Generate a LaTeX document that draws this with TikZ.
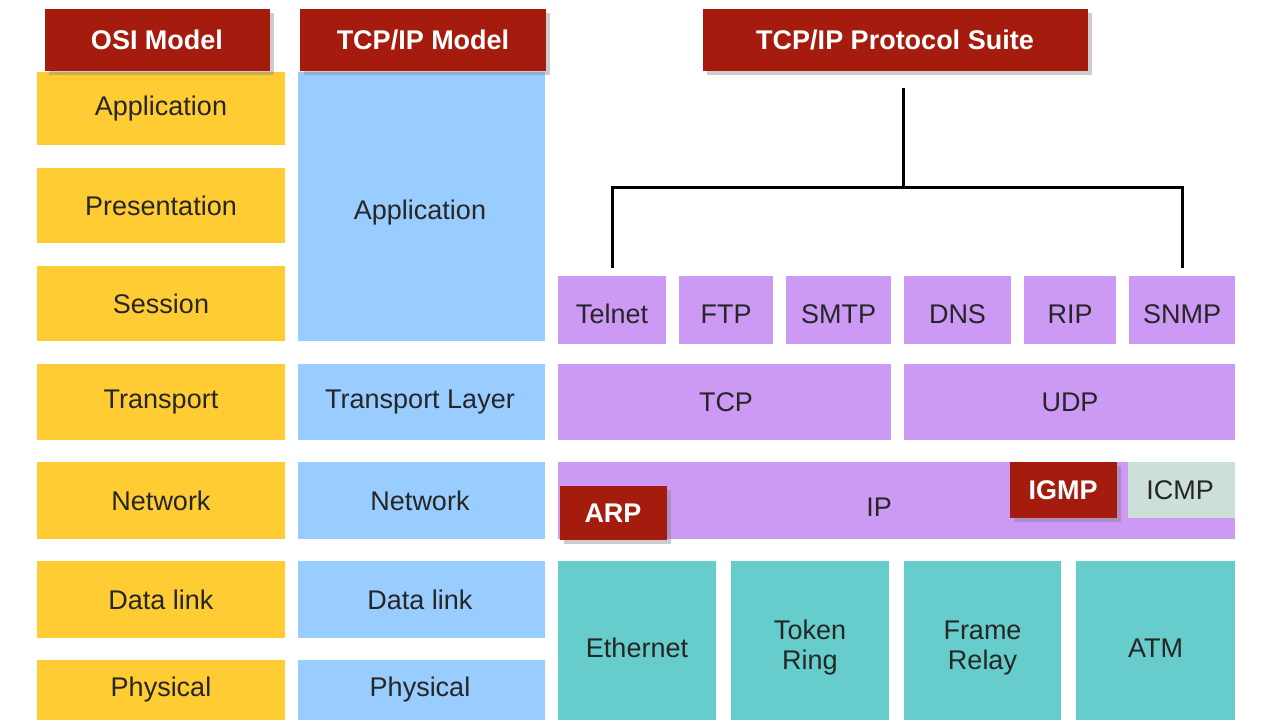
\documentclass[tikz,border=0pt]{standalone}
\usepackage{fontspec}
\setmainfont{Liberation Sans}
\usetikzlibrary{shadows}
\definecolor{hdr}{HTML}{A51C0E}
\definecolor{osi}{HTML}{FFCC33}
\definecolor{lb}{HTML}{99CCFF}
\definecolor{pur}{HTML}{CC99F5}
\definecolor{teal}{HTML}{66CCCC}
\definecolor{icm}{HTML}{CCE0D8}
\tikzset{
 bx/.style={inner sep=0pt, font=\fontsize{27}{30}\selectfont, text=black!85},
 hd/.style={bx, fill=hdr, text=white, font=\bfseries\fontsize{27}{30}\selectfont, drop shadow={shadow xshift=4pt, shadow yshift=-4pt, opacity=0.4}},
 tree/.style={line width=3pt}
}
\newcommand{\bxx}[7]{\fill[#6] (#2,#3) rectangle (#4,#5); \node[#7] (#1) at ({(#2+#4)/2},{(#3+#5)/2}) {};}
\begin{document}
\begin{tikzpicture}[x=1pt,y=-1pt]
\useasboundingbox (0,0) rectangle (1280,720);
\fill[white] (0,0) rectangle (1280,720);
\begin{scope}
\clip (0,0) rectangle (1280,720);
% OSI column
\foreach \n/\a/\b/\t in {oa/72/145/Application, op/168/243/Presentation, os/266/341/Session, ot/364/440/Transport, on/462/539/Network, od/561/638/Data link, oph/660/740/Physical}{
  \fill[osi] (37,\a) rectangle (285,\b);
  \node[bx] (\n) at (161,{(\a+min(\b,720))/2}) {\t};
}
% TCP/IP model column
\fill[lb] (298,72) rectangle (545,341);
\node[bx] (ta) at (420,213) {Application};
\foreach \n/\a/\b/\t in {tt/364/440/Transport Layer, tn/462/539/Network, td/561/638/Data link, tph/660/740/Physical}{
  \fill[lb] (298,\a) rectangle (545,\b);
  \node[bx] (\n) at (420,{(\a+min(\b,720))/2}) {\t};
}
% protocols
\foreach \n/\l/\r/\t in {telnet/558/666/Telnet, ftp/679/773/FTP, smtp/786/891/SMTP, dns/904/1011/DNS, rip/1024/1116/RIP, snmp/1129/1235/SNMP}{
  \fill[pur] (\l,276) rectangle (\r,344);
  \node[bx] (\n) at ({(\l+\r)/2},314) {\t};
}
\fill[pur] (558,364) rectangle (891,440); \node[bx] (tcp) at (726,402) {TCP};
\fill[pur] (904,364) rectangle (1235,440); \node[bx] (udp) at (1070,402) {UDP};
\fill[pur] (558,462) rectangle (1235,539); \node[bx] (ip) at (879,507) {IP};
\fill[icm] (1128,462) rectangle (1235,518); \node[bx] (icmp) at (1180,490) {ICMP};
\node[hd, minimum width=107pt, minimum height=56pt] (igmp) at (1063,490) {IGMP};
\node[hd, minimum width=107pt, minimum height=54pt] (arp) at (613,513) {ARP};
% link layer
\foreach \n/\l/\r/\t in {eth/558/716/Ethernet, tok/731/889/{Token\\Ring}, fr/904/1061/{Frame\\Relay}, atm/1076/1235/ATM}{
  \fill[teal] (\l,561) rectangle (\r,740);
  \node[bx, align=center] (\n) at ({(\l+\r)/2},648) {\t};
}
\end{scope}
% headers
\node[hd, minimum width=225pt, minimum height=62pt] (h1) at (157,40) {OSI Model};
\node[hd, minimum width=246pt, minimum height=62pt] (h2) at (423,40) {TCP/IP Model};
\node[hd, minimum width=385pt, minimum height=62pt] (h3) at (895,40) {TCP/IP Protocol Suite};
% tree
\coordinate (j) at (903,187);
\draw[tree] (903,88) -- (j);
\draw[tree] (telnet.north |- 0,268) -- (telnet.north |- j) -- (snmp.north |- j) -- (snmp.north |- 0,268);
\end{tikzpicture}
\end{document}
